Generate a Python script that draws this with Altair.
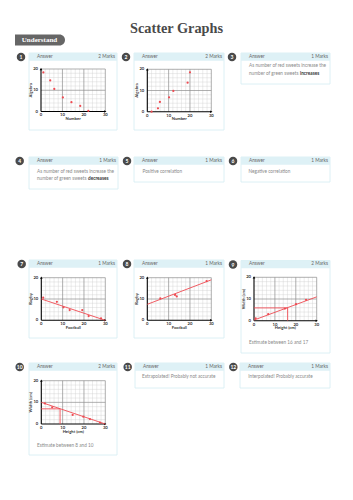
import altair as alt
import pandas as pd

# ---------------- data ----------------
q1_x = [1.1, 4.3, 6.2, 10.2, 14.2, 18.3, 22.1]
q1_y = [18.4, 14.6, 10.6, 6.6, 4.4, 2.6, 0.3]

q2_x = [2.0, 5.0, 5.9, 10.2, 12.2, 18.9, 20.0]
q2_y = [0.0, 1.6, 4.6, 6.8, 9.8, 13.7, 18.6]

q7_x = [0.9, 7.3, 10.4, 13.3, 19.2, 22.2, 28.0]
q7_y = [10.6, 8.7, 6.1, 4.8, 4.8, 2.0, 0.9]
q7_fit_x = [0, 30]
q7_fit_y = [10, 0]

q8_x = [6.1, 13.0, 13.8, 27.8]
q8_y = [10.3, 11.9, 11.2, 18.4]
q8_fit_x = [0, 30]
q8_fit_y = [7.5, 19]

q9_x = [0.8, 6.8, 14.8, 20.1, 24.9]
q9_y = [1.1, 3.0, 5.6, 7.6, 9.6]
q9_fit_x = [0, 30]
q9_fit_y = [0.3, 11]
q9_est = (16.1, 5.9)

q10_x = [1.7, 5.1, 14.7, 19.7, 22.8, 27.5]
q10_y = [9.5, 7.7, 4.2, 3.4, 2.3, 0.6]
q10_fit_x = [0, 30]
q10_fit_y = [10, 0]
q10_est = (8.8, 7.0)

x_ticks = [0, 10, 20, 30]
y_ticks = [0, 10, 20]

FONT = "Lato"
RED = "#ef4b52"

# ---------------- layout (pixels) ----------------
p_num = ["1", "2", "3", "4", "5", "6", "7", "8", "9", "10", "11", "12"]
p_left = [29, 134, 241, 29, 134, 241, 29, 134, 241, 29, 135, 240]
p_right = [117, 224, 330, 118, 224, 330, 117, 224, 330, 117, 224, 330]
p_top = [53, 53, 53, 157, 157, 157, 260, 260, 260.5, 363, 363, 363]
p_bottom = [130, 130, 84, 189, 182, 182, 338, 338, 353, 455, 388, 388]
p_marks = ["2 Marks", "2 Marks", "1 Marks", "1 Marks", "1 Marks", "1 Marks",
           "1 Marks", "1 Marks", "2 Marks", "2 Marks", "1 Marks", "1 Marks"]
p_cx = [21, 126, 232, 19.7, 127, 233, 21.7, 127, 233, 19.7, 127.7, 233.3]

panels = pd.DataFrame({"n": p_num, "left": p_left, "right": p_right, "top": p_top,
                       "bottom": p_bottom, "marks": p_marks, "cx": p_cx})
panels["hb"] = panels["top"] + 7.7
panels["cy"] = panels["top"] + 4
panels["hy"] = panels["top"] + 3.9
panels["ax"] = panels["left"] + 8
panels["mx"] = panels["right"] - 2


def px(f):
    return alt.X(f, type="quantitative", scale=None, axis=None)


def py(f):
    return alt.Y(f, type="quantitative", scale=None, axis=None)


boxes = alt.Chart(panels).mark_rect(fill="white", stroke="#d3ecf2", strokeWidth=0.8).encode(
    x=px("left"), x2="right", y=py("top"), y2="bottom")
heads = alt.Chart(panels).mark_rect(fill="#def1f6").encode(
    x=px("left"), x2="right", y=py("top"), y2="hb")
answer = alt.Chart(panels).mark_text(text="Answer", font=FONT, fontSize=4.7, color="#666",
                                     align="left", baseline="middle").encode(x=px("ax"), y=py("hy"))
marks = alt.Chart(panels).mark_text(font=FONT, fontSize=4.7, color="#666",
                                    align="right", baseline="middle").encode(
    x=px("mx"), y=py("hy"), text="marks:N")
circles = alt.Chart(panels).mark_circle(size=72, color="#4a4a4a", opacity=1).encode(
    x=px("cx"), y=py("cy"))
cnum = alt.Chart(panels).mark_text(font=FONT, fontSize=5, fontWeight="bold", color="white",
                                   baseline="middle").encode(x=px("cx"), y=py("cy"), text="n:N")

b_x = [249, 249, 300, 37, 37, 88, 142.5, 248.5, 249, 37, 142, 248.3]
b_y = [65.7, 74, 74, 171.7, 178.7, 178.7, 171.7, 171.7, 343.3, 446, 377.3, 377.3]
b_text = ["As number of red sweets increase the", "number of green sweets", "increases",
          "As number of red sweets increase the", "number of green sweets", "decreases",
          "Positive correlation", "Negative correlation",
          "Estimate between 16 and 17", "Estimate between 8 and 10",
          "Extrapolated! Probably not accurate", "Interpolated! Probably accurate"]
b_bold = [False, False, True, False, False, True, False, False, False, False, False, False]
body = pd.DataFrame({"x": b_x, "y": b_y, "t": b_text, "b": b_bold})
body_norm = alt.Chart(body[~body["b"]]).mark_text(font=FONT, fontSize=4.7, color="#8a8a8a",
                                                  align="left", baseline="middle").encode(
    x=px("x"), y=py("y"), text="t:N")
body_bold = alt.Chart(body[body["b"]]).mark_text(font=FONT, fontSize=4.7, color="#333",
                                                 fontWeight="bold", align="left", baseline="middle").encode(
    x=px("x"), y=py("y"), text="t:N")

head = pd.DataFrame({"x": [176.5], "y": [33], "t": ["Scatter Graphs"]})
title = alt.Chart(head).mark_text(font="Liberation Serif", fontSize=14.3, fontWeight="bold",
                                  color="#4a4a4a", baseline="alphabetic").encode(
    x=px("x"), y=py("y"), text="t:N")
badge_df = pd.DataFrame({"x": [15], "x2": [65], "y": [34.5], "y2": [45.5], "tx": [39.5], "ty": [40], "t": ["Understand"]})
badge = alt.Chart(badge_df).mark_rect(fill="#666", cornerRadiusTopRight=5.5,
                                      cornerRadiusBottomRight=5.5).encode(
    x=px("x"), x2="x2", y=py("y"), y2="y2")
badge_t = alt.Chart(badge_df).mark_text(font="Liberation Serif", fontSize=7, fontWeight="bold",
                                        color="white", baseline="middle").encode(
    x=px("tx"), y=py("ty"), text="t:N")


def plot(xr, yr, xs, ys, xtitle, ytitle, fit=None, est=None):
    sx = alt.Scale(domain=[0, 30], range=xr, nice=False, zero=False)
    sy = alt.Scale(domain=[0, 20], range=yr, nice=False, zero=False)

    def X(f):
        return alt.X(f, type="quantitative", scale=sx, axis=None)

    def Y(f):
        return alt.Y(f, type="quantitative", scale=sy, axis=None)

    minor_v = pd.DataFrame({"v": [v for v in range(2, 30, 2) if v % 10], "lo": 0, "hi": 20})
    minor_h = pd.DataFrame({"v": [v for v in range(2, 20, 2) if v % 10], "lo": 0, "hi": 30})
    major_v = pd.DataFrame({"v": [10, 20, 30], "lo": 0, "hi": 20})
    major_h = pd.DataFrame({"v": [10, 20], "lo": 0, "hi": 30})
    layers = [
        alt.Chart(minor_v).mark_rule(stroke="#cfcfcf", strokeWidth=0.4).encode(x=X("v"), y=Y("lo"), y2="hi"),
        alt.Chart(minor_h).mark_rule(stroke="#cfcfcf", strokeWidth=0.4).encode(y=Y("v"), x=X("lo"), x2="hi"),
        alt.Chart(major_v).mark_rule(stroke="#8c8c8c", strokeWidth=0.7).encode(x=X("v"), y=Y("lo"), y2="hi"),
        alt.Chart(major_h).mark_rule(stroke="#8c8c8c", strokeWidth=0.7).encode(y=Y("v"), x=X("lo"), x2="hi"),
        alt.Chart(pd.DataFrame({"v": [0], "lo": [0], "hi": [30]})).mark_rule(
            stroke="black", strokeWidth=1.1).encode(y=Y("v"), x=X("lo"), x2="hi"),
        alt.Chart(pd.DataFrame({"v": [0], "lo": [0], "hi": [20]})).mark_rule(
            stroke="black", strokeWidth=1.1).encode(x=X("v"), y=Y("lo"), y2="hi"),
        alt.Chart(pd.DataFrame({"x": [30], "y": [0]})).mark_point(
            shape="triangle-right", filled=True, size=7, color="black", opacity=1).encode(x=X("x"), y=Y("y")),
        alt.Chart(pd.DataFrame({"x": [0], "y": [20]})).mark_point(
            shape="triangle-up", filled=True, size=7, color="black", opacity=1).encode(x=X("x"), y=Y("y")),
        alt.Chart(pd.DataFrame({"v": x_ticks, "z": 0, "t": [str(v) for v in x_ticks]})).mark_text(
            font=FONT, fontSize=4.2, fontWeight="bold", color="#333", baseline="top", dy=1.8).encode(
            x=X("v"), y=Y("z"), text="t:N"),
        alt.Chart(pd.DataFrame({"v": y_ticks, "z": 0, "t": [str(v) for v in y_ticks]})).mark_text(
            font=FONT, fontSize=4.2, fontWeight="bold", color="#333", align="right", baseline="middle",
            dx=-3).encode(y=Y("v"), x=X("z"), text="t:N"),
        alt.Chart(pd.DataFrame({"x": [15], "y": [0], "t": [xtitle]})).mark_text(
            font=FONT, fontSize=4.2, fontWeight="bold", color="#333", baseline="top", dy=5.6).encode(
            x=X("x"), y=Y("y"), text="t:N"),
        alt.Chart(pd.DataFrame({"x": [0], "y": [10], "t": [ytitle]})).mark_text(
            font=FONT, fontSize=4.2, fontWeight="bold", color="#333", baseline="middle", angle=270,
            dy=-10.5).encode(x=X("x"), y=Y("y"), text="t:N"),
    ]
    if fit is not None:
        layers.append(alt.Chart(pd.DataFrame({"x": fit[0], "y": fit[1]})).mark_line(
            color=RED, strokeWidth=0.9).encode(x=X("x"), y=Y("y")))
    if est is not None:
        ex, ey = est
        layers.append(alt.Chart(pd.DataFrame({"v": [ey], "lo": [0], "hi": [ex]})).mark_rule(
            color=RED, strokeWidth=0.9).encode(y=Y("v"), x=X("lo"), x2="hi"))
        layers.append(alt.Chart(pd.DataFrame({"v": [ex], "lo": [0], "hi": [ey]})).mark_rule(
            color=RED, strokeWidth=0.9).encode(x=X("v"), y=Y("lo"), y2="hi"))
    layers.append(alt.Chart(pd.DataFrame({"x": xs, "y": ys})).mark_point(
        shape="circle", filled=True, size=5, color=RED, opacity=1).encode(x=X("x"), y=Y("y")))
    return alt.layer(*layers)


g1 = plot([41, 105.3], [111.5, 69], q1_x, q1_y, "Number", "Algebra")
g2 = plot([147.3, 211.3], [111.7, 69.3], q2_x, q2_y, "Number", "Algebra")
g7 = plot([41.3, 105.3], [320.3, 277.7], q7_x, q7_y, "Football", "Rugby", fit=(q7_fit_x, q7_fit_y))
g8 = plot([147.3, 211.3], [320.3, 277.7], q8_x, q8_y, "Football", "Rugby", fit=(q8_fit_x, q8_fit_y))
g9 = plot([254, 316.7], [320.7, 277.3], q9_x, q9_y, "Height (cm)", "Width (cm)",
          fit=(q9_fit_x, q9_fit_y), est=q9_est)
g10 = plot([41.3, 105.3], [424, 380.7], q10_x, q10_y, "Height (cm)", "Width (cm)",
           fit=(q10_fit_x, q10_fit_y), est=q10_est)

chart = alt.layer(
    boxes, heads, answer, marks, circles, cnum, body_norm, body_bold, title, badge, badge_t,
    g1, g2, g7, g8, g9, g10,
).resolve_scale(x="independent", y="independent").properties(
    width=353, height=500, autosize=alt.AutoSizeParams(type="none"), padding=0,
    background="white",
).configure_view(stroke=None)

chart.save("out.html", embed_options={"renderer": "svg", "actions": False})
